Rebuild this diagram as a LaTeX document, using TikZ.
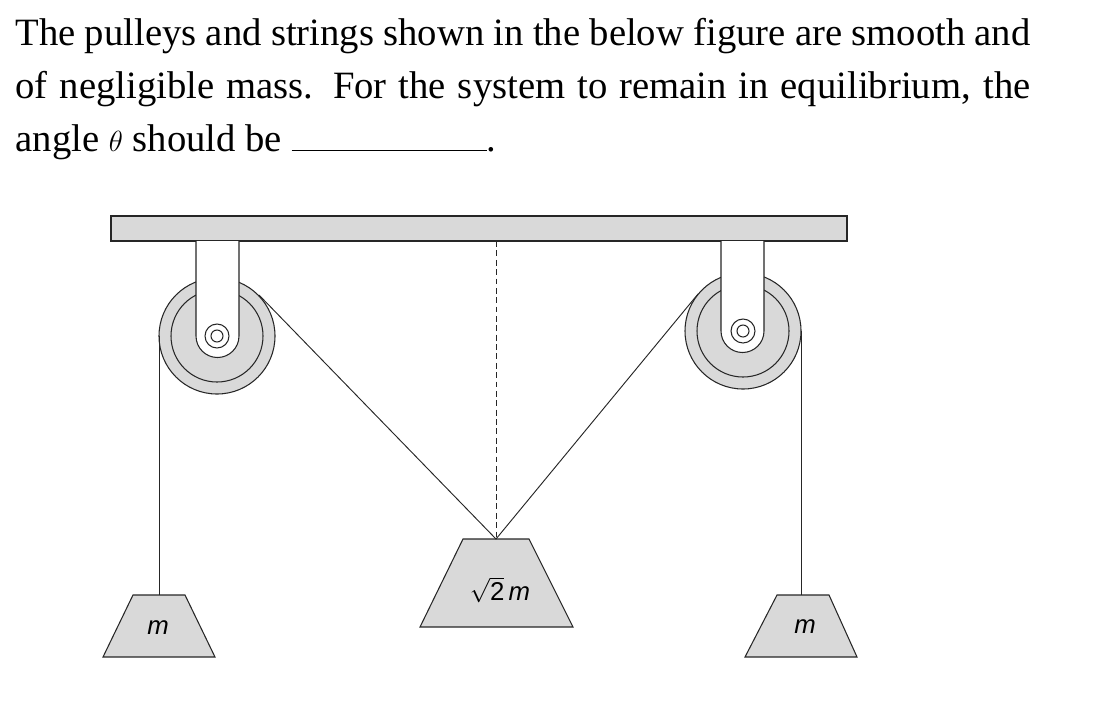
\documentclass[tikz,border=0pt]{standalone}
\usepackage{fontspec}
\setmainfont{Liberation Serif}
\setsansfont{Liberation Sans}
\begin{document}
\begin{tikzpicture}[x=0.03cm,y=-0.03cm,line width=0.9pt,
  part/.style={draw=black!85,fill=black!15},
  wire/.style={draw=black!85,line width=0.8pt},
  lbl/.style={font=\sffamily\itshape\fontsize{22}{24}\selectfont}]
\useasboundingbox (0,0) rectangle (1102,716);
\node[anchor=north west,inner sep=0pt,align=justify,text width=30.45cm,font=\fontsize{33}{45}\selectfont] (txt) at (15,18)
{The pulleys and strings shown in the below figure are smooth and of negligible mass. For the system to remain in equilibrium, the angle $\theta$ should be \rule{5.85cm}{0.6pt}.\hfill\null};
% ceiling
\draw[part] (111,216) rectangle (847,241);
% left pulley
\draw[part] (217,336) circle[radius=58];
\draw[draw=black!85] (217,336) circle[radius=46];
\draw[draw=black!85,fill=white] (196,241) -- (196,336) arc[start angle=180,end angle=360,x radius=21.5,y radius=-21.5] -- (239,241);
\draw[draw=black!85] (217,336) circle[radius=12] (217,336) circle[radius=6];
% right pulley
\draw[part] (743,331) circle[radius=58];
\draw[draw=black!85] (743,331) circle[radius=46];
\draw[draw=black!85,fill=white] (721,241) -- (721,331) arc[start angle=180,end angle=360,x radius=21.5,y radius=-21.5] -- (764,241);
\draw[draw=black!85] (743,331) circle[radius=12] (743,331) circle[radius=6];
% masses
\draw[part] (133,595) -- (185,595) -- (215,657) -- (103,657) -- cycle;
\node[lbl] (m1) at (158,628) {m};
\draw[part] (777,595) -- (829,595) -- (857,657) -- (745,657) -- cycle;
\node[lbl] (m3) at (805,627) {m};
\draw[part] (463,539) -- (529,539) -- (573,627) -- (420,627) -- cycle;
\node[font=\sffamily\fontsize{22}{24}\selectfont] (m2) at (500,590) {$\sqrt{\hbox{\sffamily 2}}$\,\textit{m}};
% strings
\coordinate (apex) at (496,539);
\coordinate (tl) at (259,295);
\coordinate (tr) at (698,294);
\coordinate (ltop) at (159,336);
\coordinate (lbot) at (159,595);
\coordinate (rtop) at (801,331);
\coordinate (rbot) at (801,595);
\coordinate (ctop) at (496,241);
\draw[wire] (tl) -- (apex) -- (tr);
\draw[wire] (ltop) -- (lbot);
\draw[wire] (rtop) -- (rbot);
\draw[wire,dashed,dash pattern=on 5pt off 3pt] (ctop) -- (apex);
\end{tikzpicture}
\end{document}
